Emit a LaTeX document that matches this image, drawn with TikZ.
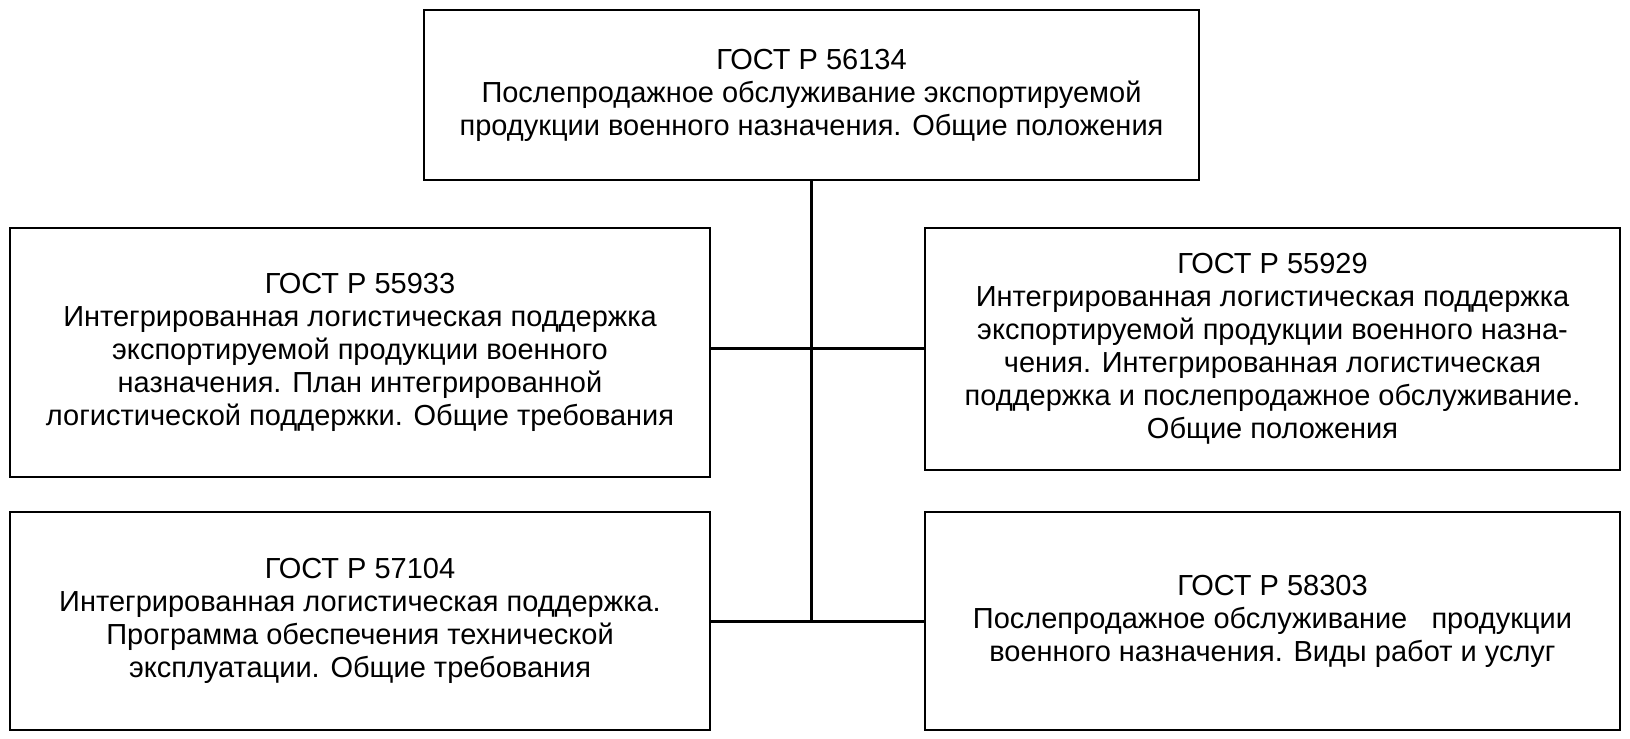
\documentclass[tikz,border=0pt]{standalone}
\usepackage{fontspec}
\setmainfont{Liberation Sans}
\usetikzlibrary{positioning}

\begin{document}
\begin{tikzpicture}[x=0.5pt,y=0.5pt,yscale=-1,xscale=1,
  gost/.style={draw,line width=1pt,inner sep=0pt,align=center,font=\fontsize{14.5}{16.5}\selectfont}]
\useasboundingbox (0,0) rectangle (1630,739);

% Boxes
\node [gost,minimum width=387.5pt,minimum height=85pt] (top) at (811.5,95) {ГОСТ Р 56134\\Послепродажное обслуживание экспортируемой\\продукции военного назначения. Общие положения};
\node [gost,minimum width=350pt,minimum height=124.5pt] (l1) at (360,352.5) {ГОСТ Р 55933\\Интегрированная логистическая поддержка\\экспортируемой продукции военного\\назначения. План интегрированной\\логистической поддержки. Общие требования};
\node [gost,minimum width=347.5pt,minimum height=121pt] (r1) at (1272.5,349) {ГОСТ Р 55929\\Интегрированная логистическая поддержка\\экспортируемой продукции военного назна-\\чения. Интегрированная логистическая\\поддержка и послепродажное обслуживание.\\Общие положения};
\node [gost,minimum width=350pt,minimum height=109pt] (l2) at (360,621) {ГОСТ Р 57104\\Интегрированная логистическая поддержка.\\Программа обеспечения технической\\эксплуатации. Общие требования};
\node [gost,minimum width=347.5pt,minimum height=109pt] (r2) at (1272.5,621) {ГОСТ Р 58303\\Послепродажное обслуживание \ \ продукции\\военного назначения. Виды работ и услуг};

% Connectors
\coordinate (mid1) at (811.5,348);
\coordinate (mid2) at (top.south |- l2.east);
\draw [line width=1.5pt] (top.south) -- (mid2);
\draw [line width=1.5pt] (l1.east |- mid1) -- (r1.west |- mid1);
\draw [line width=1.5pt] (l2.east) -- (r2.west);
\end{tikzpicture}
\end{document}
